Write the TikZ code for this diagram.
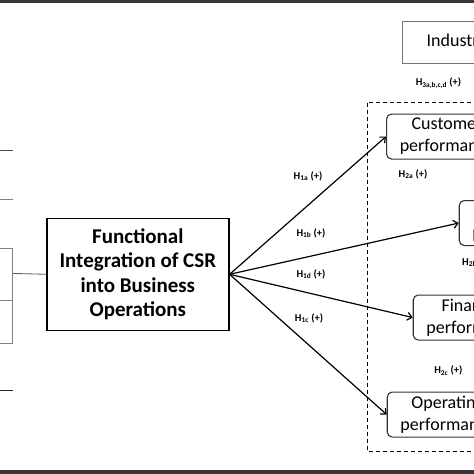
\documentclass[tikz,border=0pt]{standalone}
\usepackage{fontspec}
\setmainfont{Carlito}
\usetikzlibrary{arrows.meta}
\definecolor{barc}{HTML}{363636}
\definecolor{lgray}{HTML}{808080}
\definecolor{boxline}{HTML}{333333}
\tikzset{
  perf/.style={draw=boxline, line width=1.1pt, rounded corners=5pt, minimum width=121pt,
    minimum height=45pt, align=center, font=\fontsize{18}{22}\selectfont, inner sep=0pt, anchor=north west},
  funcbox/.style={draw=black, line width=1.6pt, minimum width=182pt, minimum height=112pt,
    align=center, font=\bfseries\fontsize{21}{24.5}\selectfont, inner sep=0pt, anchor=north west},
  indbox/.style={draw=lgray!90!black, line width=0.8pt, minimum height=42pt, text width=170pt,
    inner xsep=24pt, inner ysep=0pt, align=left, font=\fontsize{18}{22}\selectfont, anchor=north west},
  leftbox/.style={draw=lgray, line width=0.8pt, minimum width=60pt, inner sep=0pt, anchor=north east},
  hl/.style={font=\bfseries\fontsize{10.5}{12}\selectfont, inner sep=0pt},
  arr/.style={draw=black, line width=1.2pt, -{Straight Barb[length=4.5pt,width=8pt,line width=1.2pt]}},
  conn/.style={draw=lgray!70!black, line width=0.8pt},
  grp/.style={draw=black, line width=1.2pt, dash pattern=on 4pt off 3pt},
}
\begin{document}
\begin{tikzpicture}[x=1pt,y=-1pt]
\useasboundingbox (0,0) rectangle (474,474);
\clip (0,0) rectangle (474,474);
\fill[white] (0,0) rectangle (474,474);
\fill[barc] (0,0) rectangle (474,2.8);
\fill[barc] (0,470.3) rectangle (474,474);

% left fragments
\draw[draw=lgray!60!black, line width=0.8pt] (-5,150.7) -- (13,150.7);
\draw[draw=lgray, line width=0.8pt] (-5,199) -- (13,199);
\draw[draw=black!85, line width=1pt] (-5,390.7) -- (13,390.7);
\node[leftbox, minimum height=52pt] (lb1) at (13,248) {};
\node[leftbox, minimum height=43pt] (lb2) at (13,300) {};
\coordinate (brk) at (13,273.4);

% main box
\node[funcbox] (fun) at (46,217.5) {Functional\\Integration of CSR\\into Business\\Operations};
\draw[conn] (brk) -- (fun.west);

% moderator
\node[indbox] (ind) at (402.3,20.7) {Industry};

% group
\draw[grp] (367.3,102.7) rectangle (620,451.3);

% outcome boxes
\node[perf] (cust) at (386,113.5) {Customer\\performance};
\node[perf] (emp) at (458.7,200) {Employee\\performance};
\node[perf] (fin) at (412.7,294.5) {Financial\\performance};
\node[perf] (oper) at (386.7,391.5) {Operating\\performance};

% arrows
\draw[arr] (fun.east) -- (cust.west);
\draw[arr] (fun.east) -- (emp.west);
\draw[arr] (fun.east) -- (fin.west);
\draw[arr] (fun.east) -- (oper.west);

% labels
\node[hl] (l1a) at (308,176) {H\textsubscript{1a} (+)};
\node[hl] (l1b) at (311,233) {H\textsubscript{1b} (+)};
\node[hl] (l1d) at (311,274.3) {H\textsubscript{1d} (+)};
\node[hl] (l1c) at (309,318) {H\textsubscript{1c} (+)};
\node[hl] (l3) at (438.5,83) {H\textsubscript{3a,b,c,d} (+)};
\node[hl] (l2a) at (413,174) {H\textsubscript{2a} (+)};
\node[hl, anchor=west] (l2b) at (462,262) {H\textsubscript{2b} (+)};
\node[hl] (l2c) at (448.3,370.7) {H\textsubscript{2c} (+)};
\end{tikzpicture}
\end{document}
